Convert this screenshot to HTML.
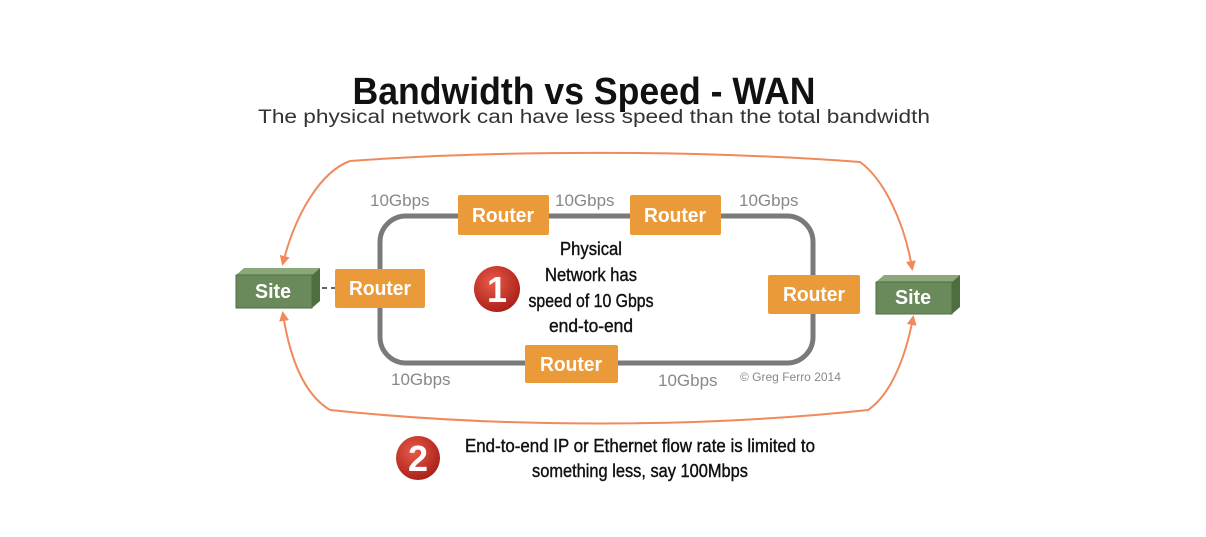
<!DOCTYPE html>
<html><head><meta charset="utf-8"><style>
html,body{margin:0;padding:0;background:#fff;}
svg{display:block;}
</style></head><body>
<svg width="1206" height="537" viewBox="0 0 1206 537" xmlns="http://www.w3.org/2000/svg" font-family="Liberation Sans, sans-serif">
<defs>
<radialGradient id="rg" cx="0.4" cy="0.35" r="0.7"><stop offset="0" stop-color="#e85a4a"/><stop offset="1" stop-color="#a81e16"/></radialGradient>
<marker id="ar" markerWidth="10" markerHeight="10" refX="7" refY="5" orient="auto" markerUnits="userSpaceOnUse"><path d="M0,0 L10,5 L0,10 z" fill="#f08a5d"/></marker>
</defs>
<text x="584" y="104" text-anchor="middle" font-size="38" font-weight="bold" fill="#111" textLength="463" lengthAdjust="spacingAndGlyphs">Bandwidth vs Speed - WAN</text>
<text x="594" y="123" text-anchor="middle" font-size="19" fill="#333" textLength="672" lengthAdjust="spacingAndGlyphs">The physical network can have less speed than the total bandwidth</text>
<path d="M350,161 C500,150 700,150 860,162 C885,180 905,225 912,268" fill="none" stroke="#f08a5d" stroke-width="2" marker-end="url(#ar)"/>
<path d="M350,161 C320,172 295,215 283,263" fill="none" stroke="#f08a5d" stroke-width="2" marker-end="url(#ar)"/>
<path d="M330,410 C500,428 700,428 868,410 C890,395 905,360 913,318" fill="none" stroke="#f08a5d" stroke-width="2" marker-end="url(#ar)"/>
<path d="M330,410 C305,395 290,360 283,314" fill="none" stroke="#f08a5d" stroke-width="2" marker-end="url(#ar)"/>
<rect x="380" y="216" width="433" height="147" rx="26" fill="none" stroke="#7a7a7a" stroke-width="5"/>
<line x1="313" y1="288" x2="335" y2="288" stroke="#666" stroke-width="2" stroke-dasharray="5,4"/>
<g font-size="17" fill="#888">
<text x="370" y="206">10Gbps</text>
<text x="555" y="206">10Gbps</text>
<text x="739" y="206">10Gbps</text>
<text x="391" y="385">10Gbps</text>
<text x="658" y="386">10Gbps</text>
<text x="740" y="381" font-size="12">© Greg Ferro 2014</text>
</g>
<g fill="#eb9a3a">
<rect x="458" y="195" width="91" height="40" rx="2"/>
<rect x="630" y="195" width="91" height="40" rx="2"/>
<rect x="335" y="269" width="90" height="39" rx="2"/>
<rect x="768" y="275" width="92" height="39" rx="2"/>
<rect x="525" y="345" width="93" height="38" rx="2"/>
</g>
<g font-size="20" font-weight="bold" fill="#fff" text-anchor="middle">
<text x="503" y="222" textLength="62" lengthAdjust="spacingAndGlyphs">Router</text>
<text x="675" y="222" textLength="62" lengthAdjust="spacingAndGlyphs">Router</text>
<text x="380" y="295" textLength="62" lengthAdjust="spacingAndGlyphs">Router</text>
<text x="814" y="301" textLength="62" lengthAdjust="spacingAndGlyphs">Router</text>
<text x="571" y="371" textLength="62" lengthAdjust="spacingAndGlyphs">Router</text>
</g>
<polygon points="236,275 244,268 320,268 312,275" fill="#8aa87a"/>
<polygon points="312,275 320,268 320,301 312,308" fill="#4e6e42"/>
<rect x="236" y="275" width="76" height="33" fill="#6a8a5c" stroke="#4e6e42"/>
<text x="273" y="298" font-size="20" font-weight="bold" fill="#fff" text-anchor="middle" textLength="36" lengthAdjust="spacingAndGlyphs">Site</text>
<polygon points="876,282 884,275 960,275 952,282" fill="#8aa87a"/>
<polygon points="952,282 960,275 960,307 952,314" fill="#4e6e42"/>
<rect x="876" y="282" width="76" height="32" fill="#6a8a5c" stroke="#4e6e42"/>
<text x="913" y="304" font-size="20" font-weight="bold" fill="#fff" text-anchor="middle" textLength="36" lengthAdjust="spacingAndGlyphs">Site</text>
<circle cx="497" cy="289" r="23" fill="url(#rg)"/>
<text x="497" y="302" font-size="36" font-weight="bold" fill="#fff" text-anchor="middle">1</text>
<circle cx="418" cy="458" r="22" fill="url(#rg)"/>
<text x="418" y="471" font-size="36" font-weight="bold" fill="#fff" text-anchor="middle">2</text>
<g font-size="18" fill="#111" text-anchor="middle" stroke="#111" stroke-width="0.4">
<text x="591" y="255" textLength="62" lengthAdjust="spacingAndGlyphs">Physical</text>
<text x="591" y="281" textLength="92" lengthAdjust="spacingAndGlyphs">Network has</text>
<text x="591" y="307" textLength="125" lengthAdjust="spacingAndGlyphs">speed of 10 Gbps</text>
<text x="591" y="332" textLength="84" lengthAdjust="spacingAndGlyphs">end-to-end</text>
<text x="640" y="452" textLength="350" lengthAdjust="spacingAndGlyphs">End-to-end IP or Ethernet flow rate is limited to</text>
<text x="640" y="477" textLength="216" lengthAdjust="spacingAndGlyphs">something less, say 100Mbps</text>
</g>
</svg>
</body></html>
